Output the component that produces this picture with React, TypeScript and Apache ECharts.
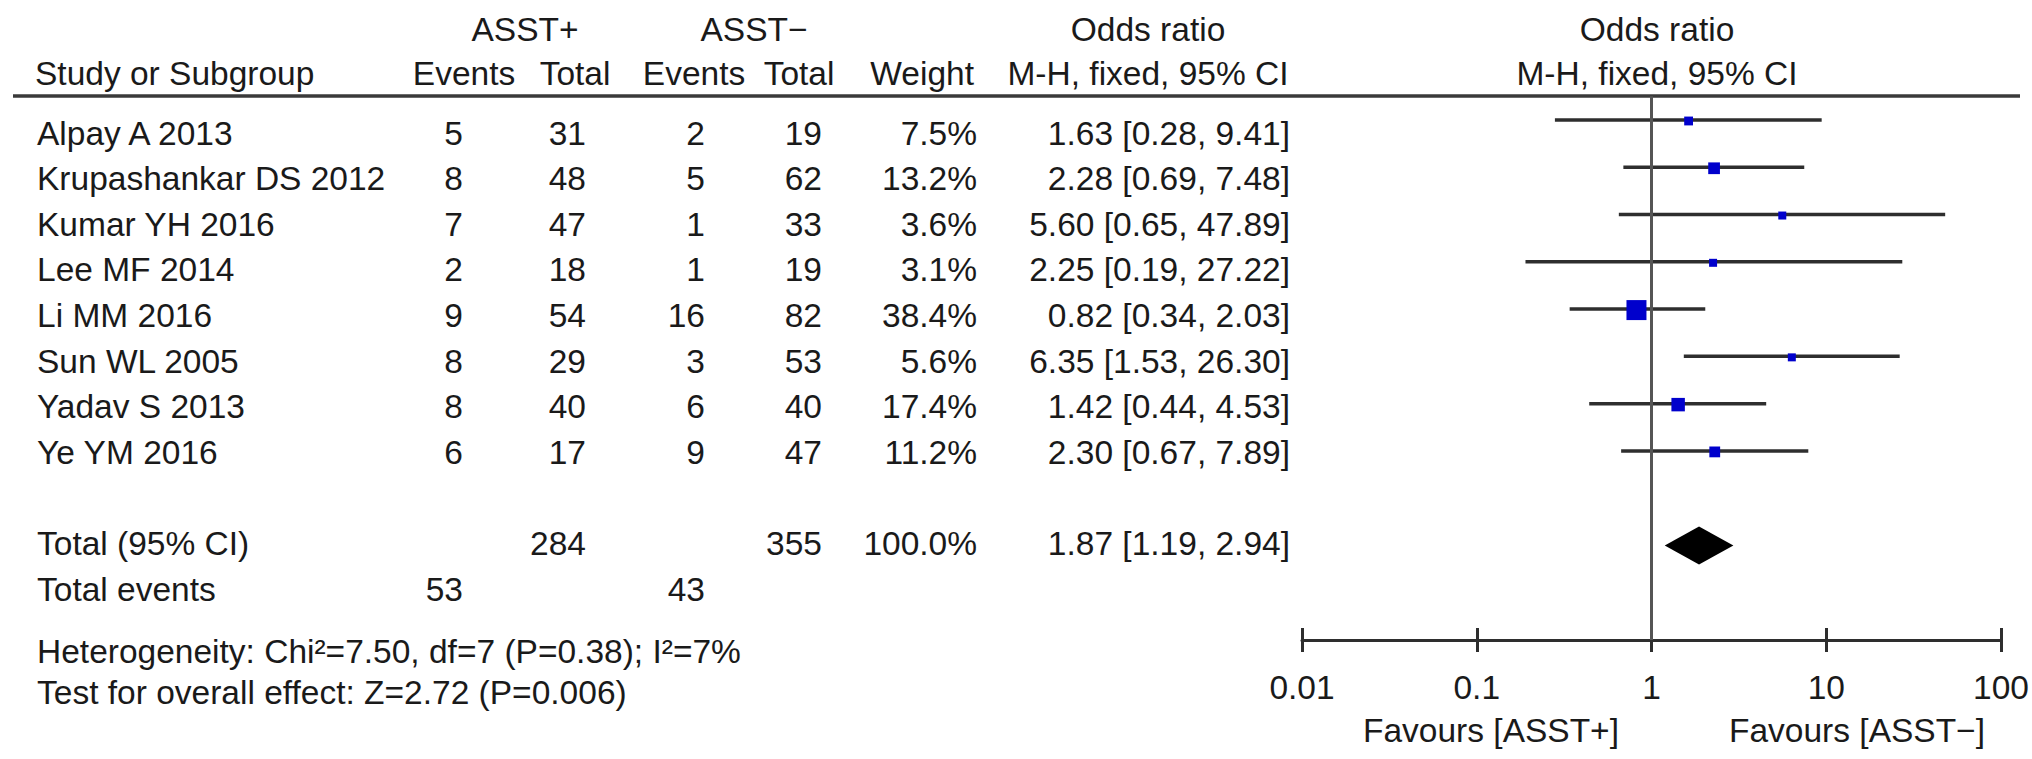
import React, { useEffect, useRef } from "react";
import * as echarts from "echarts";

// ---------- data ----------
const studies = [
  "Alpay A 2013",
  "Krupashankar DS 2012",
  "Kumar YH 2016",
  "Lee MF 2014",
  "Li MM 2016",
  "Sun WL 2005",
  "Yadav S 2013",
  "Ye YM 2016",
];
const eventsPos = [5, 8, 7, 2, 9, 8, 8, 6];
const totalPos = [31, 48, 47, 18, 54, 29, 40, 17];
const eventsNeg = [2, 5, 1, 1, 16, 3, 6, 9];
const totalNeg = [19, 62, 33, 19, 82, 53, 40, 47];
const weights = [7.5, 13.2, 3.6, 3.1, 38.4, 5.6, 17.4, 11.2];
const oddsRatio = [1.63, 2.28, 5.6, 2.25, 0.82, 6.35, 1.42, 2.3];
const ciLow = [0.28, 0.69, 0.65, 0.19, 0.34, 1.53, 0.44, 0.67];
const ciHigh = [9.41, 7.48, 47.89, 27.22, 2.03, 26.3, 4.53, 7.89];
const pooledEstimate = [1.87, 1.19, 2.94]; // OR, low, high
const pooledTotals = [284, 355];
const pooledEvents = [53, 43];
const pooledWeight = 100.0;
const xTickValues = [0.01, 0.1, 1, 10, 100];
const footnotes = [
  "Heterogeneity: Chi\u00b2=7.50, df=7 (P=0.38); I\u00b2=7%",
  "Test for overall effect: Z=2.72 (P=0.006)",
];

// ---------- layout / style ----------
const FONT = '"Liberation Sans", Arial, Helvetica, sans-serif';
const FS = 33.5;
const TXT = "#1a1a1a";
const LINE = "#2e2e2e";
const BLUE = "#0000cc";

const COL = {
  study: 37,
  ev1: 463,
  tot1: 586,
  ev2: 705,
  tot2: 822,
  weight: 977,
  or: 1290,
};

const fmt2 = (v: number) => v.toFixed(2);
const orText = (o: number, l: number, h: number) => `${fmt2(o)} [${fmt2(l)}, ${fmt2(h)}]`;

type Cell = { text: string; x: number; align: string };
type TRow = { row: number; cells: Cell[] };

function buildTableRows(): TRow[] {
  const rows: TRow[] = studies.map((s, i) => ({
    row: i,
    cells: [
      { text: s, x: COL.study, align: "left" },
      { text: String(eventsPos[i]), x: COL.ev1, align: "right" },
      { text: String(totalPos[i]), x: COL.tot1, align: "right" },
      { text: String(eventsNeg[i]), x: COL.ev2, align: "right" },
      { text: String(totalNeg[i]), x: COL.tot2, align: "right" },
      { text: `${weights[i].toFixed(1)}%`, x: COL.weight, align: "right" },
      { text: orText(oddsRatio[i], ciLow[i], ciHigh[i]), x: COL.or, align: "right" },
    ],
  }));
  rows.push({
    row: 9,
    cells: [
      { text: "Total (95% CI)", x: COL.study, align: "left" },
      { text: String(pooledTotals[0]), x: COL.tot1, align: "right" },
      { text: String(pooledTotals[1]), x: COL.tot2, align: "right" },
      { text: `${pooledWeight.toFixed(1)}%`, x: COL.weight, align: "right" },
      { text: orText(pooledEstimate[0], pooledEstimate[1], pooledEstimate[2]), x: COL.or, align: "right" },
    ],
  });
  rows.push({
    row: 10,
    cells: [
      { text: "Total events", x: COL.study, align: "left" },
      { text: String(pooledEvents[0]), x: COL.ev1, align: "right" },
      { text: String(pooledEvents[1]), x: COL.ev2, align: "right" },
    ],
  });
  return rows;
}

function txt(text: string, x: number, y: number, align: string, extra: any = {}) {
  return {
    type: "text",
    x,
    y,
    silent: true,
    style: {
      text,
      fill: TXT,
      fontSize: FS,
      fontFamily: FONT,
      align,
      textAlign: align,
      verticalAlign: "middle",
      textVerticalAlign: "middle",
      ...extra,
    },
  };
}

export default function App() {
  const ref = useRef<HTMLDivElement>(null);

  useEffect(() => {
    if (!ref.current) return;
    const chart = echarts.init(ref.current, undefined, { renderer: "svg" });
    const tableRows = buildTableRows();
    const maxW = Math.max(...weights);
    const squareSize = (w: number) => Math.max(8, 20 * Math.sqrt(w / maxW));

    const ciData = studies.map((_, i) => [oddsRatio[i], ciLow[i], ciHigh[i], i]);
    const diamondData = [[pooledEstimate[0], pooledEstimate[1], pooledEstimate[2], 9]];

    const option: any = {
      animation: false,
      backgroundColor: "#ffffff",
      textStyle: { fontFamily: FONT },
      grid: [
        { left: 1302, top: 96.35, width: 700, height: 543.65, containLabel: false },
        { left: 0, top: 19, width: 1300, height: 706.8, containLabel: false },
      ],
      xAxis: [
        {
          type: "log",
          logBase: 10,
          min: 0.01,
          max: 100,
          gridIndex: 0,
          position: "bottom",
          axisLine: { show: true, onZero: false, lineStyle: { color: LINE, width: 3 } },
          axisTick: { show: true, inside: true, length: 12, lineStyle: { color: LINE, width: 3 } },
          axisLabel: { show: false },
          splitLine: { show: false },
        },
        {
          type: "log",
          logBase: 10,
          min: 0.01,
          max: 100,
          gridIndex: 0,
          position: "bottom",
          axisLine: { show: false, onZero: false },
          axisTick: { show: true, inside: false, length: 12, lineStyle: { color: LINE, width: 3 } },
          axisLabel: {
            show: true,
            margin: 30,
            fontSize: FS,
            fontFamily: FONT,
            color: TXT,
            formatter: (v: number) => {
              const hit = xTickValues.find((t) => Math.abs(t - v) / t < 1e-6);
              return hit !== undefined ? String(hit) : "";
            },
          },
          splitLine: { show: false },
        },
        { type: "value", gridIndex: 1, min: 0, max: 1300, show: false },
      ],
      yAxis: [
        { type: "value", gridIndex: 0, min: -0.5, max: 11, inverse: true, show: false },
        { type: "value", gridIndex: 1, min: -2.5, max: 13, inverse: true, show: false },
      ],
      series: [
        {
          type: "custom",
          name: "studies",
          xAxisIndex: 0,
          yAxisIndex: 0,
          data: ciData,
          encode: { x: [0, 1, 2], y: 3 },
          clip: false,
          silent: true,
          renderItem: (params: any, api: any) => {
            const row = api.value(3);
            const c = api.coord([api.value(0), row]);
            const lo = api.coord([api.value(1), row]);
            const hi = api.coord([api.value(2), row]);
            const s = squareSize(weights[params.dataIndex]);
            return {
              type: "group",
              children: [
                {
                  type: "line",
                  shape: { x1: lo[0], y1: lo[1], x2: hi[0], y2: hi[1] },
                  style: { stroke: LINE, lineWidth: 3.5 },
                },
                {
                  type: "rect",
                  shape: { x: c[0] - s / 2, y: c[1] - s / 2 + 1, width: s, height: s },
                  style: { fill: BLUE },
                },
              ],
            };
          },
          markLine: {
            silent: true,
            symbol: ["none", "none"],
            label: { show: false },
            lineStyle: { color: "#555555", width: 3, type: "solid" },
            data: [{ xAxis: 1 }],
          },
          z: 3,
        },
        {
          type: "custom",
          name: "pooled",
          xAxisIndex: 0,
          yAxisIndex: 0,
          data: diamondData,
          encode: { x: [0, 1, 2], y: 3 },
          clip: false,
          silent: true,
          renderItem: (params: any, api: any) => {
            const row = api.value(3);
            const c = api.coord([api.value(0), row]);
            const lo = api.coord([api.value(1), row]);
            const hi = api.coord([api.value(2), row]);
            const h = 19;
            return {
              type: "polygon",
              shape: {
                points: [
                  [lo[0], lo[1]],
                  [c[0], c[1] - h],
                  [hi[0], hi[1]],
                  [c[0], c[1] + h],
                ],
              },
              style: { fill: "#000000" },
            };
          },
          z: 4,
        },
        {
          type: "custom",
          name: "table",
          xAxisIndex: 2,
          yAxisIndex: 1,
          data: tableRows.map((r, k) => [0, r.row, k]),
          encode: { x: 0, y: 1 },
          clip: false,
          silent: true,
          renderItem: (params: any, api: any) => {
            const r = tableRows[params.dataIndex];
            const y = api.coord([0, api.value(1)])[1];
            return {
              type: "group",
              children: r.cells.map((c) => txt(c.text, c.x, y, c.align)),
            };
          },
        },
      ],
      graphic: [
        {
          type: "line",
          silent: true,
          shape: { x1: 13, y1: 96, x2: 2020, y2: 96 },
          style: { stroke: "#3a3a3a", lineWidth: 3.5 },
        },
        txt("ASST+", 525, 29, "center"),
        txt("ASST\u2212", 754, 29, "center"),
        txt("Odds ratio", 1148, 29, "center"),
        txt("Odds ratio", 1657, 29, "center"),
        txt("Study or Subgroup", 35, 73, "left"),
        txt("Events", 464, 73, "center"),
        txt("Total", 575, 73, "center"),
        txt("Events", 694, 73, "center"),
        txt("Total", 799, 73, "center"),
        txt("Weight", 974, 73, "right"),
        txt("M-H, fixed, 95% CI", 1148, 73, "center"),
        txt("M-H, fixed, 95% CI", 1657, 73, "center"),
        txt(footnotes[0], 37, 651, "left"),
        txt(footnotes[1], 37, 692, "left"),
        txt("Favours [ASST+]", 1619, 730, "right"),
        txt("Favours [ASST\u2212]", 1729, 730, "left"),
      ],
    };

    chart.setOption(option);
    return () => {
      chart.dispose();
    };
  }, []);

  return (
    <div
      ref={ref}
      style={{ position: "absolute", left: 0, top: 0, width: 2032, height: 759, background: "#fff" }}
    />
  );
}
